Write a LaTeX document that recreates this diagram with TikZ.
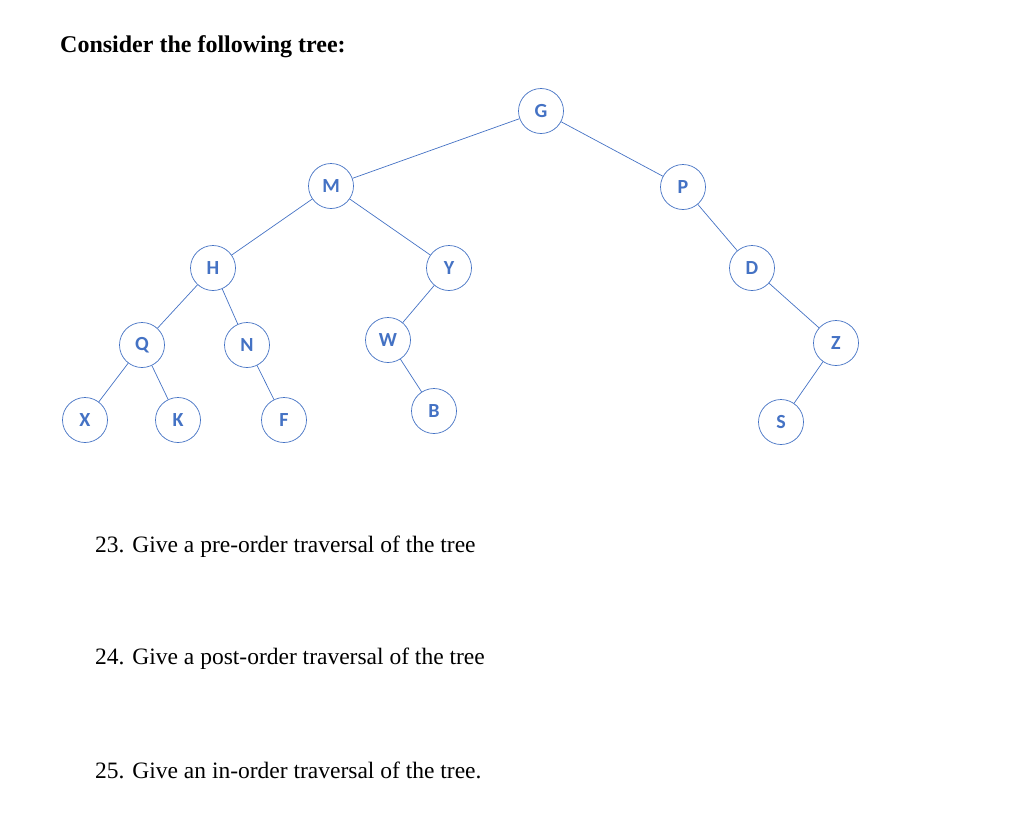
\documentclass[tikz,border=0pt]{standalone}
\usepackage{fontspec}
\setmainfont{Liberation Serif}
\newfontfamily\nodefont{Carlito}
\definecolor{tblue}{HTML}{4472C4}
\begin{document}
\begin{tikzpicture}[x=1pt,y=-1pt,
  tnode/.style={circle,draw=tblue,fill=white,line width=0.7pt,minimum size=45pt,inner sep=0pt,text=tblue,font=\nodefont\bfseries\fontsize{20}{22}\selectfont},
  edge/.style={draw=tblue,line width=0.7pt},
  qtext/.style={anchor=west,font=\fontsize{23.5}{26}\selectfont,inner sep=0pt}]
\useasboundingbox (0,0) rectangle (1024,835);
\node[anchor=west,inner sep=0pt,font=\bfseries\fontsize{24}{28}\selectfont] (title) at (60,47) {Consider the following tree:};
\node[tnode] (G) at (541,111) {G};
\node[tnode] (M) at (331,186) {M};
\node[tnode] (P) at (683,187) {P};
\node[tnode] (H) at (213,268) {H};
\node[tnode] (Y) at (449,268) {Y};
\node[tnode] (D) at (752,268) {D};
\node[tnode] (Q) at (142,345) {Q};
\node[tnode] (N) at (247,345) {N};
\node[tnode] (W) at (388,340) {W};
\node[tnode] (Z) at (836,343) {Z};
\node[tnode] (X) at (85,420) {X};
\node[tnode] (K) at (178,420) {K};
\node[tnode] (F) at (284,420) {F};
\node[tnode] (B) at (434,411) {B};
\node[tnode] (S) at (781,422) {S};
\foreach \a/\b in {G/M,G/P,M/H,M/Y,P/D,H/Q,H/N,Y/W,D/Z,Q/X,Q/K,N/F,W/B,Z/S}
  \draw[edge] (\a) -- (\b);
\node[qtext] (q23) at (95,547) {23. Give a pre-order traversal of the tree};
\node[qtext] (q24) at (95,659) {24. Give a post-order traversal of the tree};
\node[qtext] (q25) at (95,770) {25. Give an in-order traversal of the tree.};
\end{tikzpicture}
\end{document}
